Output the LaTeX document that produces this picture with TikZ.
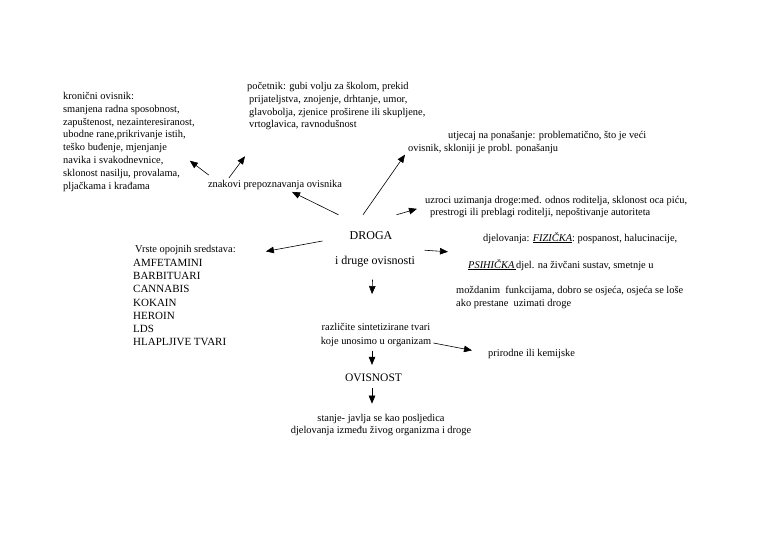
\documentclass[tikz,border=0pt]{standalone}
\usepackage{fontspec}
\setmainfont{Liberation Serif}
\usetikzlibrary{arrows.meta}

\begin{document}
\begin{tikzpicture}[
        x=1pt, y=-1pt,
        txt/.style={inner sep=0pt, align=left, font=\fontsize{10.4}{12.8}\selectfont},
        big/.style={inner sep=0pt, font=\fontsize{12}{14}\selectfont},
        lst/.style={inner sep=0pt, align=left, font=\fontsize{11}{13.2}\selectfont},
        arrow/.style={-{Triangle[length=8pt,width=6.5pt]}, line width=0.6pt}
    ]
        \useasboundingbox (0,0) rectangle (768,543);

        % Signs of addiction
        \node[txt, anchor=north west] (kron) at (63,92) {kronični ovisnik:\\smanjena radna sposobnost,\\zapuštenost, nezainteresiranost,\\ubodne rane,prikrivanje istih,\\teško buđenje, mjenjanje\\navika i svakodnevnice,\\sklonost nasilju, provalama,\\pljačkama i krađama};
        \node[txt, anchor=north west] (poc) at (247,82) {početnik: gubi volju za školom, prekid\\\hspace*{2pt}prijateljstva, znojenje, drhtanje, umor,\\\hspace*{2pt}glavobolja, zjenice proširene ili skupljene,\\\hspace*{2pt}vrtoglavica, ravnodušnost};
        \node[txt] (znak) at (275,185) {znakovi prepoznavanja ovisnika};

        % Behaviour and causes
        \node[txt, anchor=north west] (utj) at (408,131) {\hspace*{40pt}utjecaj na ponašanje: problematično, što je veći\\ovisnik, skloniji je probl. ponašanju};
        \node[txt, anchor=north west, font=\fontsize{10.4}{11.8}\selectfont] (uzr) at (425,196) {uzroci uzimanja droge:međ. odnos roditelja, sklonost oca piću,\\\hspace*{5pt}prestrogi ili preblagi roditelji, nepoštivanje autoriteta};

        % Centre
        \node[big] (droga) at (371,236) {DROGA};
        \node[big] (druge) at (375,262) {i druge ovisnosti};

        % Kinds of drugs
        \node[txt, anchor=north west] (vrste) at (135,245) {Vrste opojnih sredstava:};
        \node[lst, anchor=north west] (lista) at (133,259) {AMFETAMINI\\BARBITUARI\\CANNABIS\\KOKAIN\\HEROIN\\LDS\\HLAPLJIVE TVARI};

        % Effects
        \node[txt, anchor=north west] (fiz) at (483,232) {djelovanja: \underline{\textit{FIZIČKA}}:\ pospanost, halucinacije,};
        \node[txt, anchor=north west] (psi) at (468,259) {\underline{\textit{PSIHIČKA}\,}djel. na živčani sustav, smetnje u};
        \node[txt, anchor=north west] (mozd) at (456,286) {moždanim\ \ funkcijama, dobro se osjeća, osjeća se loše\\ako prestane\ \ uzimati droge};

        % Substances and addiction
        \node[txt, align=center, font=\fontsize{10.4}{14}\selectfont] (tvari) at (376,335) {različite sintetizirane tvari\\koje unosimo u organizam};
        \node[txt, anchor=north west] (prir) at (488,349) {prirodne ili kemijske};
        \node[big, font=\fontsize{11.5}{14}\selectfont] (ovis) at (373.5,378) {OVISNOST};
        \node[txt, align=center] (stanje) at (381,425) {stanje- javlja se kao posljedica\\djelovanja između živog organizma i droge};

        % Connections
        \draw[arrow] ([xshift=1pt,yshift=5pt]znak.north west) -- ([xshift=-5pt,yshift=-19pt]kron.east);
        \draw[arrow] ([xshift=21pt,yshift=2pt]znak.north west) -- ([xshift=-2pt,yshift=-26pt]poc.south west);
        \draw[arrow] ([xshift=-11pt,yshift=17pt]droga.north west) -- ([xshift=17pt,yshift=-2pt]znak.south);
        \draw[arrow] ([xshift=-8pt,yshift=17pt]droga.north) -- ([xshift=-3pt,yshift=-1pt]utj.south west);
        \draw[arrow] ([xshift=4pt,yshift=17pt]droga.north east) -- ([xshift=-8pt,yshift=-2pt]uzr.west);
        \draw[arrow] ([xshift=-27pt,yshift=-5pt]droga.west) -- ([xshift=30pt,yshift=-1.5pt]vrste.east);
        \draw[arrow] ([xshift=32pt,yshift=-10pt]droga.south east) -- ([xshift=-35pt,yshift=-14pt]fiz.west);
        \draw[arrow] ([xshift=-2.5pt,yshift=-12pt]druge.south) -- ([xshift=-4pt,yshift=29pt]tvari.north);
        \draw[arrow] ([xshift=2pt,yshift=-8pt]tvari.east) -- ([xshift=-16pt,yshift=3.5pt]prir.west);
        \draw[arrow] ([xshift=-4pt,yshift=-4pt]tvari.south) -- ([xshift=-1.5pt,yshift=9pt]ovis.north);
        \draw[arrow] ([xshift=-1.5pt,yshift=-6pt]ovis.south) -- ([xshift=-9pt,yshift=10pt]stanje.north);
    \end{tikzpicture}
\end{document}
